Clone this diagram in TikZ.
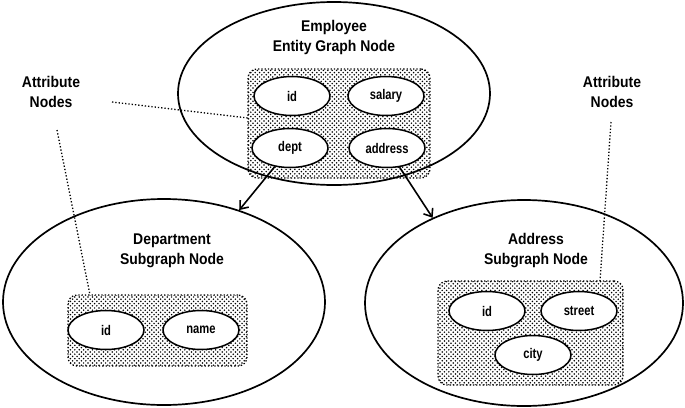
\documentclass[tikz,border=0pt]{standalone}
\usepackage{fontspec}
\setmainfont{Liberation Sans}[FakeStretch=0.9]
\newfontfamily\innerfont{Liberation Sans}[FakeStretch=0.8]
\usetikzlibrary{shapes.geometric,patterns,arrows.meta}
\pgfdeclarepatternformonly{bigdots}{\pgfqpoint{-1pt}{-1pt}}{\pgfqpoint{5.4pt}{5.4pt}}{\pgfqpoint{4.4pt}{4.4pt}}{
  \pgfpathcircle{\pgfqpoint{0pt}{0pt}}{0.85pt}
  \pgfpathcircle{\pgfqpoint{2.2pt}{2.2pt}}{0.85pt}
  \pgfusepath{fill}}
\begin{document}
\begin{tikzpicture}[x=1pt,y=-1pt,
  bigell/.style={ellipse, draw, line width=1.7pt, fill=white},
  smell/.style={ellipse, draw, line width=1.5pt, fill=white, minimum width=76pt, minimum height=39pt, inner sep=0pt, font=\innerfont\fontsize{14}{16}\selectfont\bfseries},
  attrbox/.style={draw, dotted, line width=1.3pt, rounded corners=9pt, pattern=bigdots, pattern color=black, inner sep=0pt},
  title/.style={align=center, font=\fontsize{15.5}{20}\selectfont\bfseries},
  conn/.style={line width=1.6pt, -{Straight Barb[length=7pt,width=11pt,line width=1.6pt]}},
  dotline/.style={dotted, line width=1.3pt}]
\useasboundingbox (0,0) rectangle (685,407);
% big ellipses
\node[bigell, minimum width=312pt, minimum height=183pt] (emp) at (334,93.5) {};
\node[bigell, minimum width=322pt, minimum height=206pt] (dep) at (164,302) {};
\node[bigell, minimum width=318pt, minimum height=206pt] (adr) at (524,303) {};
\node[title] (empt) at (334,37) {Employee\\Entity Graph Node};
\node[title] (dept) at (172,251) {Department\\Subgraph Node};
\node[title] (adrt) at (536,251) {Address\\Subgraph Node};
% attribute boxes
\node[attrbox, minimum width=182pt, minimum height=109pt] (ab1) at (339,123.5) {};
\node[attrbox, minimum width=179pt, minimum height=71pt] (ab2) at (157.5,330.5) {};
\node[attrbox, minimum width=185pt, minimum height=104pt] (ab3) at (530.5,333) {};
% small ellipses
\node[smell] (eid) at (292,96) {id};
\node[smell] (esal) at (386,96) {salary};
\node[smell] (edept) at (290,148) {dept};
\node[smell] (eaddr) at (387,148) {address};
\node[smell] (did) at (106,330) {id};
\node[smell] (dname) at (201,330) {name};
\node[smell] (aid) at (487,311) {id};
\node[smell] (astr) at (579,311) {street};
\node[smell] (acity) at (533,355) {city};
% labels
\node[title] (lbl1) at (51,92) {Attribute\\Nodes};
\node[title] (lbl2) at (612,92) {Attribute\\Nodes};
% connectors
\draw[conn] (edept) -- (dep);
\draw[conn] (eaddr) -- (adr.137);
% dotted pointer lines
\coordinate (p1) at (112,102);
\coordinate (p1e) at (248,118);
\coordinate (p2) at (57,130);
\coordinate (p2e) at (90,295);
\coordinate (p3) at (611,122);
\coordinate (p3e) at (600,281);
\draw[dotline] (p1) -- (p1e);
\draw[dotline] (p2) -- (p2e);
\draw[dotline] (p3) -- (p3e);
\end{tikzpicture}
\end{document}
